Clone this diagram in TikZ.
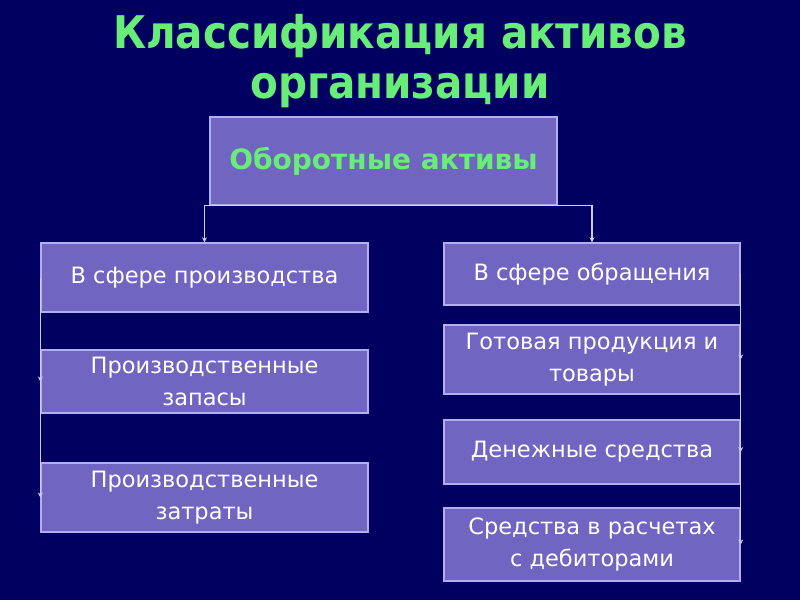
\documentclass[tikz,border=0pt]{standalone}
\usepackage{fontspec}
\setmainfont{DejaVu Sans}
\newfontfamily\titlefont{DejaVu Sans Condensed}
\usetikzlibrary{arrows.meta}
\definecolor{bgnavy}{RGB}{0,0,96}
\definecolor{boxfill}{RGB}{112,102,194}
\definecolor{boxline}{RGB}{180,174,240}
\definecolor{titlegreen}{RGB}{104,238,120}
\definecolor{connline}{RGB}{205,205,245}
\tikzset{
  box/.style={draw=boxline, line width=1.3pt, fill=boxfill, text=white,
    align=center, inner sep=0pt, font=\fontsize{22.5}{32}\selectfont},
  conn/.style={draw=connline, line width=1.3pt, -{Stealth[length=5pt,width=5pt]}},
  ttl/.style={text=titlegreen, font=\titlefont\bfseries\fontsize{45}{50}\selectfont, align=center}
}
\begin{document}
\begin{tikzpicture}[x=1pt,y=-1pt]
\fill[bgnavy] (0,0) rectangle (800,600);
\useasboundingbox (0,0) rectangle (800,600);
\node[ttl] (title) at (400,61) {Классификация активов\\организации};
\node[box, minimum width=347pt, minimum height=88pt, text=titlegreen,
  font=\bfseries\fontsize{28}{32}\selectfont] (top) at (383.5,161) {Оборотные активы};
% left column
\node[box, minimum width=327pt, minimum height=69pt] (L1) at (204.5,277.5) {В сфере производства};
\node[box, minimum width=327pt, minimum height=63pt] (L2) at (204.5,381.5) {Производственные\\запасы};
\node[box, minimum width=327pt, minimum height=69pt] (L3) at (204.5,497.5) {Производственные\\затраты};
% right column
\node[box, minimum width=296pt, minimum height=62pt] (R1) at (592,274) {В сфере обращения};
\node[box, minimum width=296pt, minimum height=69pt] (R2) at (592,359.5) {Готовая продукция и\\товары};
\node[box, minimum width=296pt, minimum height=64pt] (R3) at (592,452) {Денежные средства};
\node[box, minimum width=296pt, minimum height=73pt] (R4) at (592,544.5) {Средства в расчетах\\с дебиторами};
% connectors
\draw[conn] (top.south) -| (L1.north);
\draw[conn] (top.south) -| (R1.north);
\draw[conn] (L1.west) -- (L2.west);
\draw[conn] (L1.west) -- (L3.west);
\draw[conn] (R1.east) -- (R2.east);
\draw[conn] (R1.east) -- (R3.east);
\draw[conn] (R1.east) -- (R4.east);
\end{tikzpicture}
\end{document}
